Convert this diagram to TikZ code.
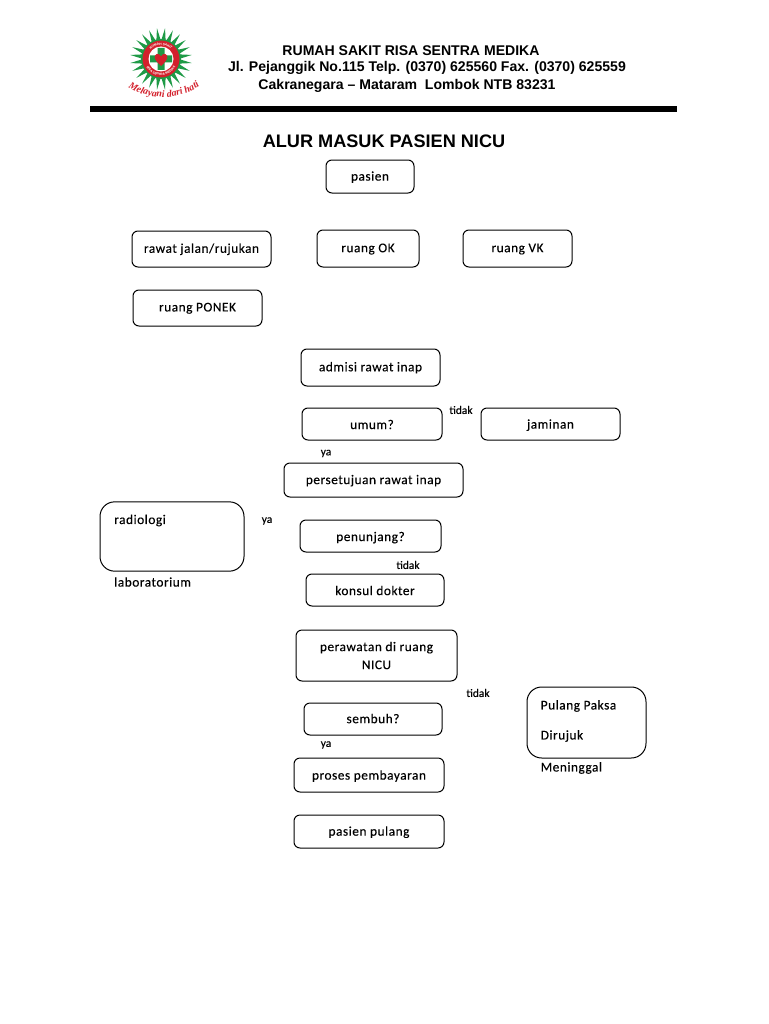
\documentclass[tikz,border=0pt]{standalone}
\usepackage{fontspec}
\setmainfont{Carlito}
\newfontfamily\hdr{Liberation Sans}
\newfontfamily\scrpt{Liberation Serif}
\usetikzlibrary{decorations.text}
\definecolor{lgreen}{HTML}{1E9A46}
\definecolor{lred}{HTML}{D3202C}
\newcommand{\boxfont}{\fontsize{10}{13.5}\selectfont\addfontfeature{LetterSpace=4,FakeBold=0.25}}
\newcommand{\up}[2]{\raisebox{#1pt}{#2}}
\tikzset{
 flowbox/.style={draw=black,line width=0.75pt,rounded corners=4.5pt,inner sep=0pt,font=\boxfont,align=center,text depth=0pt},
 plain/.style={inner sep=0pt,font=\boxfont,anchor=west},
 small/.style={inner sep=0pt,font=\fontsize{8.6}{10}\selectfont\addfontfeature{FakeBold=0.15}},
 head/.style={inner sep=0pt,font=\hdr\bfseries\fontsize{10.55}{12}\selectfont},
 titlefont/.style={inner sep=0pt,font=\hdr\bfseries\fontsize{13.6}{15}\selectfont},
}
\newcommand{\bx}[6]{\node[flowbox,minimum width=#4*0.75pt-#3*0.75pt,minimum height=#6*0.75pt-#5*0.75pt] (#1) at ({(#3+#4)/2},{(#5+#6)/2}) {#2};}
\begin{document}
\begin{tikzpicture}[x=0.75pt,y=-0.75pt]
\useasboundingbox (0,0) rectangle (768,1024);
% logo
\begin{scope}[shift={(161,59)}]
 \foreach \a in {0,15,...,345}{
  \fill[lgreen] (\a:18) -- (\a+7.5:31) -- (\a+15:18) -- cycle;
 }
 \fill[lgreen] (0,0) circle (20);
 \fill[lred] (0,0) circle (18.5);
 \fill[white] (0,0) circle (12.5);
 \fill[lgreen] (-3.5,-11) -- (3.5,-11) -- (3.5,-3.5) -- (11,-3.5) -- (11,3.5) -- (3.5,3.5) -- (3.5,11) -- (-3.5,11) -- (-3.5,3.5) -- (-11,3.5) -- (-11,-3.5) -- (-3.5,-3.5) -- cycle;
 \fill[lred] (0,7) .. controls (-4,3) and (-7.5,0) .. (-6,-3.5) .. controls (-4.5,-6) and (-1.5,-5.5) .. (0,-2.5) .. controls (1.5,-5.5) and (4.5,-6) .. (6,-3.5) .. controls (7.5,0) and (4,3) .. (0,7) -- cycle;
 \path[decorate,decoration={text along path,text align=center,text={|\hdr\bfseries\fontsize{2.4}{3}\selectfont\color{white}|RUMAH SAKIT}}] plot[domain=170:370,samples=30] ({14*cos(\x)},{14*sin(\x)});
 \path[decorate,decoration={text along path,text align=center,text={|\hdr\bfseries\fontsize{2.4}{3}\selectfont\color{white}|RISA SENTRA MEDIKA}}] plot[domain=170:10,samples=30] ({16.5*cos(\x)},{16.5*sin(\x)});
\end{scope}
\path[decorate,decoration={text along path,text align=center,text={|\scrpt\itshape\bfseries\fontsize{7.4}{8}\selectfont\color{lred}|Melayani dari hati}}] (123,83) .. controls (145,102) and (182,102) .. (205,82);
% header
\node[head] (h1) at (411,51) {RUMAH SAKIT RISA SENTRA MEDIKA};
\node[head] (h2) at (427,68) {Jl. Pejanggik No.115 Telp. (0370) 625560 Fax. (0370) 625559};
\node[head] (h3) at (407,86) {Cakranegara – Mataram\ \ Lombok NTB 83231};
\fill[black] (90,106) rectangle (677,111.5);
\node[titlefont] (title) at (384,141) {ALUR MASUK PASIEN NICU};
% boxes
\bx{b1}{\up{0.7}{pasien}}{326}{414}{160}{193}
\bx{b2}{\up{1.3}{rawat jalan/rujukan}}{132}{271}{231}{267}
\bx{b3}{\up{0.9}{ruang OK}}{317}{419}{230}{267}
\bx{b4}{\up{0.9}{ruang VK}}{463}{572}{230}{267}
\bx{b5}{\up{1.3}{ruang PONEK}}{133}{262}{290}{326}
\bx{b6}{\up{1.3}{admisi rawat inap}}{301}{440}{349}{386}
\bx{b7}{\up{-0.7}{umum?}}{302}{442}{408}{440}
\bx{b8}{jaminan}{481}{620}{408}{440}
\bx{b9}{\up{0.7}{persetujuan rawat inap}}{284}{463}{463}{497}
\bx{b10}{\up{-0.7}{penunjang?}}{300}{441}{520}{552}
\bx{b11}{\up{-0.7}{konsul dokter}}{306}{444}{574}{606}
\bx{b12}{perawatan di ruang\\NICU}{296}{457}{630}{681}
\bx{b13}{\up{0.7}{sembuh?}}{304}{442}{703}{735}
\bx{b14}{proses pembayaran}{294}{444}{758}{792}
\bx{b15}{\up{0.7}{pasien pulang}}{294}{444}{815}{848}
\node[flowbox,rounded corners=11pt,minimum width=108pt,minimum height=52pt] (b16) at (172,536.5) {};
\node[flowbox,rounded corners=11pt,minimum width=89.25pt,minimum height=53.25pt] (b17) at (586.5,722.5) {};
% free text
\node[plain] (t1) at (114,520.5) {radiologi};
\node[plain] (t2) at (114,582) {laboratorium};
\node[plain] (t3) at (540.5,706) {Pulang Paksa};
\node[plain] (t4) at (540.5,736) {Dirujuk};
\node[plain] (t5) at (540.5,768) {Meninggal};
\node[small] (l1) at (461,410) {tidak};
\node[small] (l2) at (326,453.5) {ya};
\node[small] (l3) at (267,521) {ya};
\node[small] (l4) at (408,565) {tidak};
\node[small] (l5) at (478,693) {tidak};
\node[small] (l6) at (326,745) {ya};
\end{tikzpicture}
\end{document}
